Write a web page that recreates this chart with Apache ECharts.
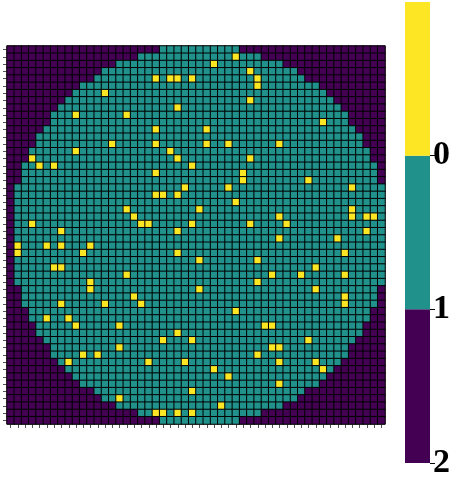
<!DOCTYPE html>
<html><head><meta charset="utf-8">
<script src="https://cdn.jsdelivr.net/npm/echarts@6/dist/echarts.min.js"></script>
<style>html,body{margin:0;padding:0;background:#fff}#c{width:474px;height:480px}</style>
</head><body><div id="c"></div>
<script>
const N = 52;
// teal (value 1) span per row [start,end], outside = value 2
const rowStart = [21,18,15,13,12,10,9,8,7,6,6,5,4,4,3,3,2,2,2,1,1,1,1,1,1,1,1,1,1,1,1,1,1,2,2,2,3,3,4,4,5,6,6,7,8,9,10,12,13,15,18,21];
const rowEnd   = [31,34,37,39,40,42,43,44,45,46,46,47,48,48,49,49,50,50,50,51,51,51,51,51,51,51,51,51,51,51,51,51,51,50,50,50,49,49,48,48,47,46,46,45,44,43,42,40,39,37,34,31];
// yellow (value 0) cells [row, col]
const yellowCells = [[4,20],[4,22],[4,23],[4,25],[6,13],[8,23],[9,9],[9,16],[11,20],[13,14],[13,20],[14,9],[14,22],[15,3],[15,23],[16,4],[16,6],[16,25],[17,20],[19,24],[20,20],[20,21],[20,23],[22,16],[22,26],[23,17],[24,18],[24,19],[24,3],[24,25],[25,7],[25,23],
[1,31],[2,28],[3,33],[4,34],[5,34],[7,33],[10,43],[11,27],[13,27],[13,30],[13,37],[15,33],[17,32],[18,32],[18,41],[19,30],[19,47],[21,31],[22,47],[23,47],[23,49],[23,50],[24,33],[23,37],[24,38],[25,49],[26,37],[26,45],
[27,1],[27,5],[27,7],[27,11],[28,1],[28,10],[28,23],[29,26],[30,6],[30,7],[31,16],[32,11],[33,11],[33,26],[34,17],[35,18],[35,7],[35,13],[37,5],[37,8],[38,9],[38,15],[39,23],[40,21],[40,25],[41,15],[42,10],[42,12],[43,8],[43,19],[43,24],[47,25],[48,15],[50,20],[50,21],[50,23],[50,25],
[28,46],[29,34],[30,42],[31,36],[31,40],[31,46],[32,34],[33,42],[34,46],[35,46],[36,31],[38,35],[38,36],[40,41],[41,36],[41,37],[42,34],[43,37],[43,42],[44,43],[44,28],[45,30],[46,37],[49,29]];
const colorLabels = ['2','1','0'];
const colors = ['#440154','#21918c','#fde725'];

const grid = [];
for (let r=0;r<N;r++){ const row=[]; for(let c=0;c<N;c++) row.push((c>=rowStart[r]&&c<=rowEnd[r])?1:2); grid.push(row);}
yellowCells.forEach(([r,c])=>{grid[r][c]=0;});
const data=[];
for (let r=0;r<N;r++) for(let c=0;c<N;c++) data.push([c,r,grid[r][c]]);
const idx=[...Array(N).keys()].map(String);

const chart=echarts.init(document.getElementById('c'));
chart.setOption({
  animation:false,
  grid:[{left:7,top:46,width:378,height:378,show:true,borderColor:'#888',borderWidth:1},
        {left:405,top:2,width:25,height:466}],
  xAxis:[{type:'category',data:idx,gridIndex:0,axisLabel:{show:false},axisLine:{show:false},
          axisTick:{show:true,interval:0,alignWithLabel:true,length:4,lineStyle:{color:'#555'}},splitLine:{show:false}},
         {type:'category',data:['a'],gridIndex:1,show:false}],
  yAxis:[{type:'category',data:idx,inverse:true,gridIndex:0,axisLabel:{show:false},axisLine:{show:false},
          axisTick:{show:true,interval:0,alignWithLabel:true,length:4,lineStyle:{color:'#555'}},splitLine:{show:false}},
         {type:'value',gridIndex:1,min:0,max:3,interval:1,position:'right',
          axisLine:{show:false},
          axisTick:{show:true,customValues:[0,1,2],length:5,lineStyle:{color:'#000'}},splitLine:{show:false},
          axisLabel:{customValues:[0,1,2],formatter:v=>colorLabels[v],fontFamily:'Liberation Serif',fontWeight:'bold',fontSize:34,color:'#000',margin:3}}],
  visualMap:{show:false,type:'piecewise',seriesIndex:0,dimension:2,
    pieces:[{value:0,color:colors[2]},{value:1,color:colors[1]},{value:2,color:colors[0]}]},
  series:[
    {type:'heatmap',xAxisIndex:0,yAxisIndex:0,data:data,itemStyle:{borderColor:'#000',borderWidth:1}},
    ...colors.map((col,i)=>({type:'bar',xAxisIndex:1,yAxisIndex:1,stack:'cb',barWidth:'100%',data:[1],itemStyle:{color:col}}))
  ]
});
</script></body></html>
